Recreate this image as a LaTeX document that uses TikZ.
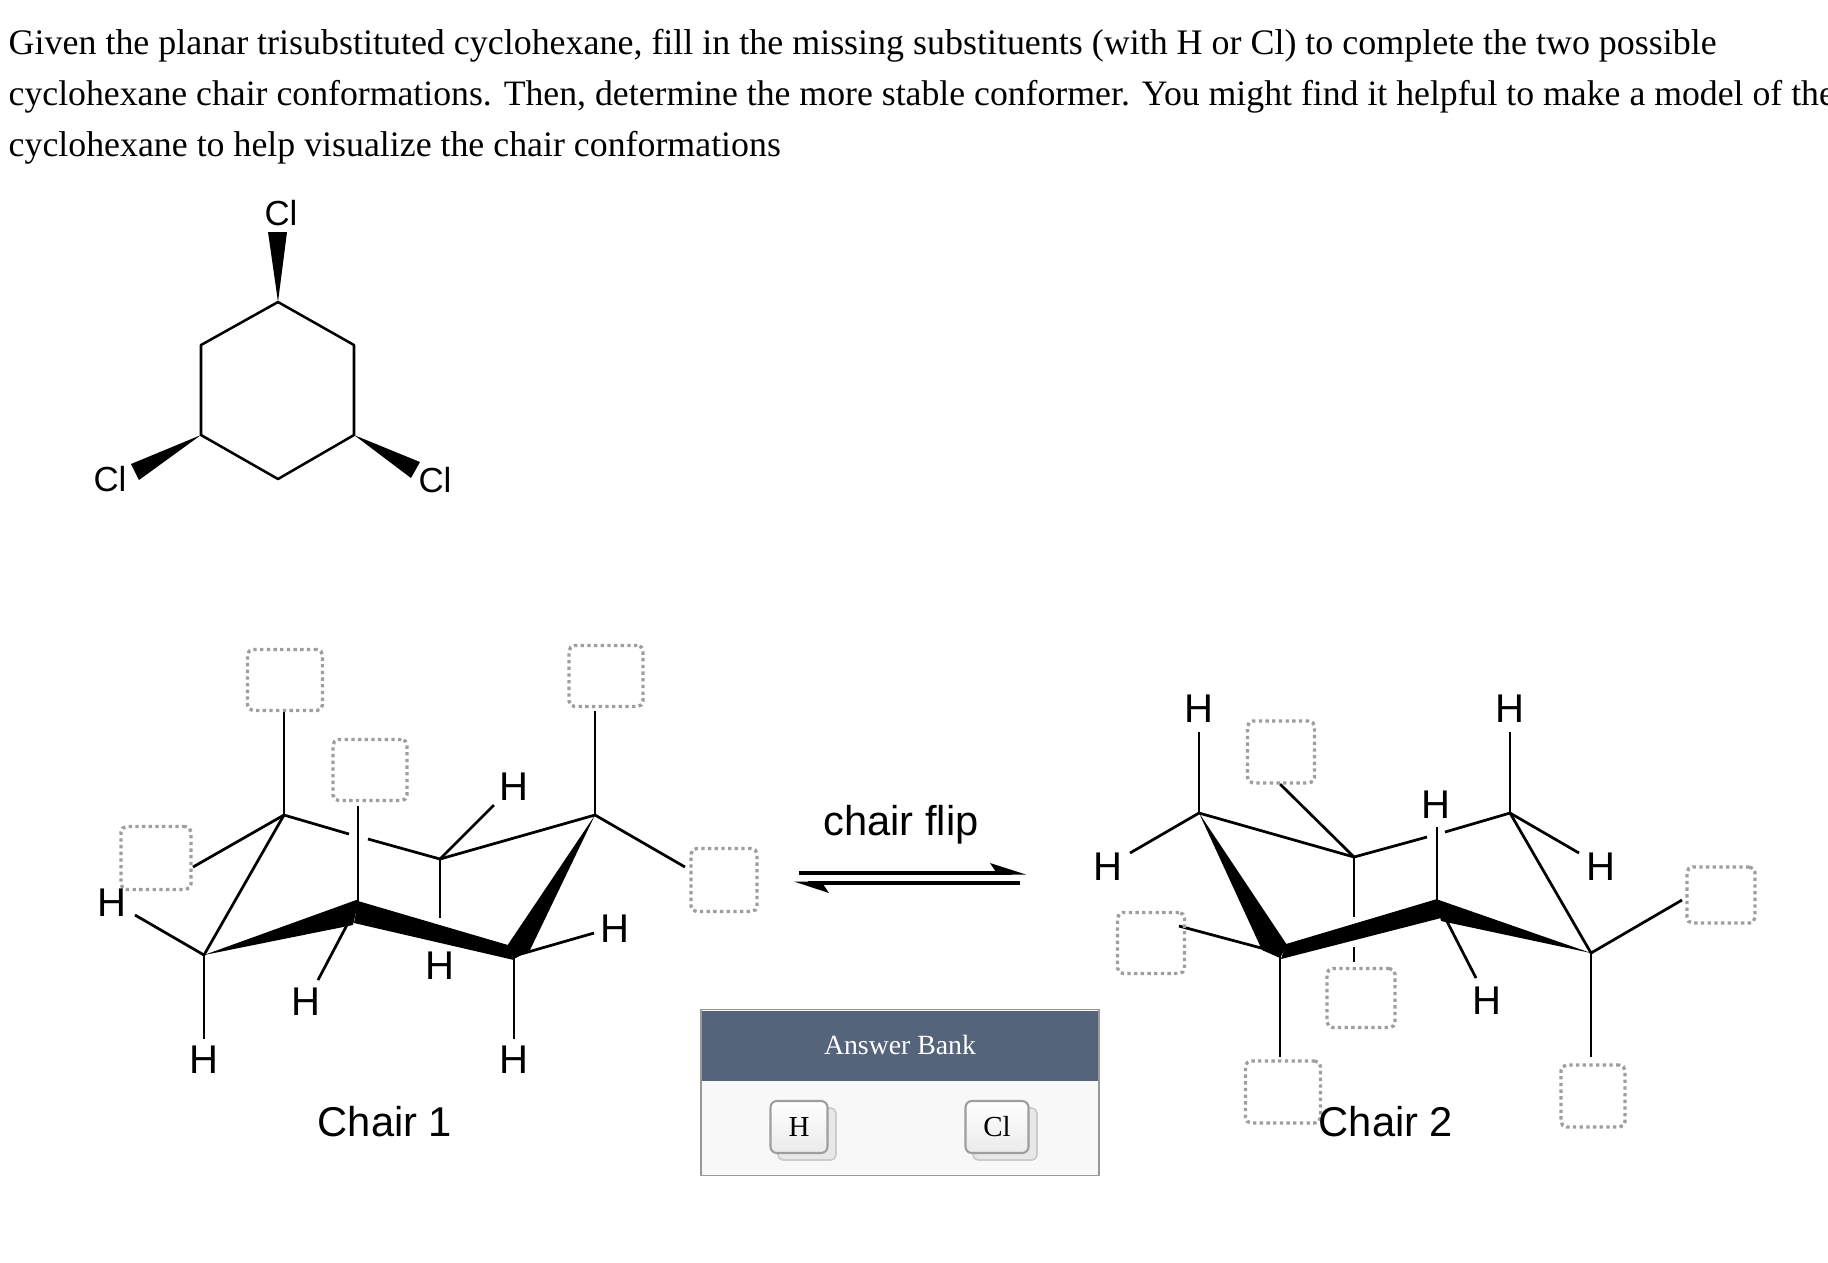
\documentclass[tikz,border=0pt]{standalone}
\usepackage{fontspec}
\setmainfont{Liberation Serif}
\setsansfont{Liberation Sans}
\usetikzlibrary{positioning,backgrounds}
\definecolor{bankhead}{HTML}{56647B}
\definecolor{bankbody}{HTML}{F8F8F8}
\definecolor{bankline}{HTML}{999999}
\tikzset{
    %Define style for bonds
    bond/.style={
           draw=black,
           line width=.78pt,
           line cap=butt,
           line join=miter},
    %Define style for drop targets
    dropbox/.style={
           rectangle,
           rounded corners=1.6pt,
           draw=black!38,
           line width=.95pt,
           dash pattern=on .95pt off .95pt,
           inner sep=0pt,
           outer sep=0pt},
    %Define style for atoms
    atom/.style={
           inner sep=0pt,
           font=\sffamily\fontsize{11.4}{13}\selectfont},
    tag/.style={
           inner sep=0pt,
           font=\sffamily\fontsize{11.85}{14}\selectfont},
    planar/.style={
           inner sep=0pt,
           font=\sffamily\fontsize{9.9}{11}\selectfont},
    question/.style={
           anchor=base west,
           inner sep=0pt,
           font=\fontsize{10.22}{12}\selectfont},
    %Define style for answer keys
    keyback/.style={
           rectangle,
           rounded corners=1.5pt,
           fill=black!9,
           draw=black!20,
           line width=.5pt},
    keyfront/.style={
           rectangle,
           rounded corners=1.8pt,
           top color=white,
           bottom color=black!8,
           draw=black!38,
           line width=.6pt,
           font=\fontsize{8.25}{10}\selectfont,
           text=black}
}
\begin{document}
\begin{tikzpicture}[x=.01cm,y=-.01cm]
\useasboundingbox (0,0) rectangle (1828,1262);
% question
\node[question](line1) at (8,54){Given the planar trisubstituted cyclohexane, fill in the missing substituents (with H or Cl) to complete the two possible};
\node[question,font=\fontsize{10.16}{12}\selectfont](line2) at (8,105){cyclohexane chair conformations. Then, determine the more stable conformer. You might find it helpful to make a model of the};
\node[question,font=\fontsize{10.19}{12}\selectfont](line3) at (8,156){cyclohexane to help visualize the chair conformations};
% planar ring
\coordinate (p1) at (278,302);
\coordinate (p2) at (354,345);
\coordinate (p3) at (354,435);
\coordinate (p4) at (278,479);
\coordinate (p5) at (201,435);
\coordinate (p6) at (201,345);
\draw[bond,line width=.72pt,line join=round] (p1) -- (p2) -- (p3) -- (p4) -- (p5) -- (p6) -- cycle;
\fill (p1) -- (268,232) -- (287,232) -- cycle;
\fill (p5) -- (131,464) -- (139,480) -- cycle;
\fill (p3) -- (420,462) -- (411,478) -- cycle;
\node[planar](cltop) at (281,213){Cl};
\node[planar](clleft) at (110,479){Cl};
\node[planar](clright) at (435,480){Cl};
% chair 1
\coordinate (a1) at (284,815);
\coordinate (a2) at (440,859);
\coordinate (a3) at (595,815);
\coordinate (a4) at (514,956);
\coordinate (a5) at (358,904);
\coordinate (a6) at (204,955);
\foreach \n/\x/\y in {a1l/193/867,a1u/284/711,a1g/349/834,a2g/368/839,a5u/358/806,a2u/494/805,a2d/440/918,
  a3u/595/711,a3r/685/867,a4r/594/933,a4d/514/1039,a5d/318/980,a6l/135/915,a6d/204/1039}
  \coordinate (\n) at (\x,\y);
\foreach \i/\j in {a1/a6,a1/a1u,a1/a1l,a1/a1g,a2g/a2,a2/a3,a2/a2u,a2/a2d,a3/a3u,a3/a3r,
  a4/a4r,a4/a4d,a5/a5u,a5/a5d,a6/a6l,a6/a6d}
  \draw[bond] (\i) -- (\j);
\fill (a6) -- (359,899) -- (353,925) -- cycle;
\fill (358,901) -- (508,945) -- (514,960) -- (354,923) -- cycle;
\fill (a3) -- (507,946) -- (514,959) -- (530,950) -- cycle;
\foreach \n/\x/\y/\w/\h in {b1/285/680/75/61,b2/370/770/74/61,b3/156/858/70/63,b4/606/676/74/61,b5/724/880/66/63}
  \node[dropbox,minimum width=\w*.01cm,minimum height=\h*.01cm](\n) at (\x,\y){};
\foreach \n/\x/\y in {h1/112/903,h2/204/1060,h3/306/1002,h4/440/966,h5/514/1060,h6/615/929,h7/514/787}
  \node[atom](\n) at (\x,\y){H};
\node[tag](chair1) at (385,1122){Chair 1};
% flip
\node[tag](flip) at (901,825){chair flip};
\coordinate (f1) at (799,873);
\coordinate (f2) at (1012,873);
\coordinate (f3) at (1020,883);
\coordinate (f4) at (808,883);
\draw[bond,line width=1pt] (f1) -- (f2);
\draw[bond,line width=1pt] (f3) -- (f4);
\fill (1026,874.5) -- (990,863) -- (996,872) -- (996,874.5) -- cycle;
\fill (794,881.5) -- (829,893) -- (823,884) -- (823,881.5) -- cycle;
% answer bank
\node[rectangle,draw=bankline,fill=bankbody,line width=.45pt,minimum width=398*.01cm,minimum height=166*.01cm,inner sep=0pt](bank) at (900,1092.5){};
\node[rectangle,fill=bankhead,minimum width=396*.01cm,minimum height=70*.01cm,inner sep=0pt](bankhd) at (900,1045.5){};
\node[text=white,font=\fontsize{7.9}{10}\selectfont,inner sep=0pt](banktxt) at (900,1045){Answer Bank};
\node[keyback,minimum width=58*.01cm,minimum height=52*.01cm,inner sep=0pt](kh0) at (807,1134){};
\node[keyfront,minimum width=57*.01cm,minimum height=52*.01cm,inner sep=0pt](kh) at (799,1127){H};
\node[keyback,minimum width=64*.01cm,minimum height=52*.01cm,inner sep=0pt](kc0) at (1005,1134){};
\node[keyfront,minimum width=63*.01cm,minimum height=52*.01cm,inner sep=0pt](kc) at (997,1127){Cl};
% chair 2
\coordinate (c1) at (1199,813);
\coordinate (c2) at (1354,857);
\coordinate (c3) at (1510,813);
\coordinate (c4) at (1591,953);
\coordinate (c5) at (1437,902);
\coordinate (c6) at (1280,953);
\foreach \n/\x/\y in {c1u/1199/732,c1l/1130/853,c2u/1280/784,c2d/1354/917,c2e/1354/947,c2f/1354/962,
  c2g/1427/837,c3g/1445/832,c3u/1510/732,c3r/1579/853,c4r/1682/900,c4d/1591/1057,c5u/1437/827,c5d/1476/978,
  c6d/1280/1057,c6l/1179/926}
  \coordinate (\n) at (\x,\y);
\foreach \i/\j in {c1/c2,c1/c1u,c1/c1l,c2/c2u,c2/c2d,c2e/c2f,c2/c2g,c3g/c3,c3/c3u,c3/c3r,c3/c4,
  c4/c4r,c4/c4d,c5/c5u,c5/c5d,c6/c6d,c6/c6l}
  \draw[bond] (\i) -- (\j);
\fill (c1) -- (1287,945) -- (1280,958) -- (1262,950) -- cycle;
\fill (1286,944) -- (1437,899) -- (1441,918) -- (1281,959) -- cycle;
\fill (c4) -- (1436,899) -- (1441,921) -- cycle;
\foreach \n/\x/\y/\w/\h in {d1/1281/752/67/62,d2/1151/943/67/61,d3/1361/998/68/59,d4/1283/1092/75/62,d5/1593/1096/64/62,d6/1721/895/68/56}
  \node[dropbox,minimum width=\w*.01cm,minimum height=\h*.01cm](\n) at (\x,\y){};
\foreach \n/\x/\y in {g1/1199/709,g2/1108/867,g3/1510/709,g4/1436/805,g5/1601/867,g6/1487/1001}
  \node[atom](\n) at (\x,\y){H};
\node[tag](chair2) at (1386,1122){Chair 2};
\end{tikzpicture}
\end{document}
